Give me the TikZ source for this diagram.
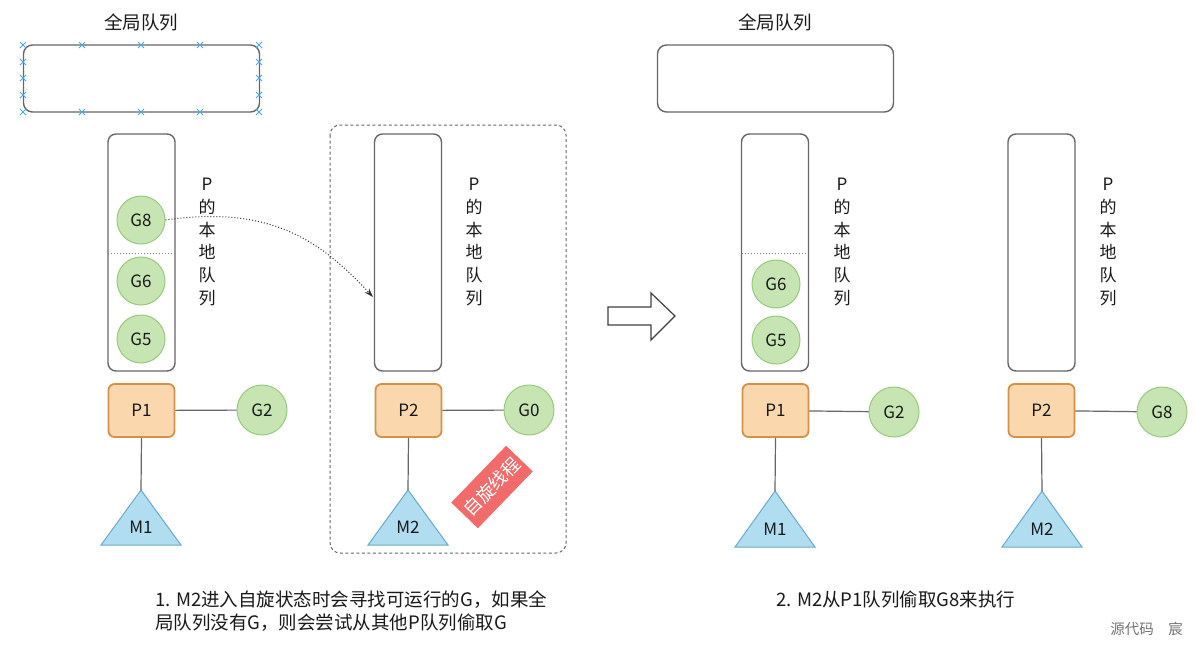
\documentclass[tikz,border=0pt]{standalone}
\usepackage{fontspec}
\setmainfont{Noto Sans CJK SC}
\usetikzlibrary{arrows.meta,shapes.geometric,shapes.arrows}
\definecolor{boxgray}{HTML}{666666}
\definecolor{gfill}{HTML}{C6E5B2}
\definecolor{gdraw}{HTML}{98C97E}
\definecolor{pfill}{HTML}{FAD7AC}
\definecolor{pdraw}{HTML}{D4914A}
\definecolor{mfill}{HTML}{B1DDF0}
\definecolor{mdraw}{HTML}{6CA9C8}
\definecolor{redlab}{HTML}{F26B6B}
\definecolor{handle}{HTML}{4AA8E0}
\tikzset{
  lbl/.style={font=\fontsize{18.5}{22}\selectfont, text=black!90},
  queue/.style={draw=boxgray, line width=1.4pt, rounded corners=8pt, minimum width=67pt, minimum height=237pt, inner sep=0pt},
  gq/.style={draw=boxgray, line width=1.4pt, rounded corners=9pt, minimum width=236pt, minimum height=67pt, inner sep=0pt},
  gnode/.style={circle, draw=gdraw, fill=gfill, line width=1pt, minimum size=48pt, inner sep=0pt, font=\fontsize{17}{20}\selectfont, text=black!90},
  pnode/.style={draw=pdraw, fill=pfill, line width=1.8pt, rounded corners=6pt, minimum width=66pt, minimum height=53pt, inner sep=0pt, font=\fontsize{17}{20}\selectfont, text=black!90},
  link/.style={draw=boxgray, line width=1.2pt},
  mtri/.style={draw=mdraw, fill=mfill, line width=1pt},
  mlab/.style={font=\fontsize{17}{20}\selectfont, text=black!90},
  sep/.style={draw=gray, line width=1pt, dotted},
  vtext/.style={font=\fontsize{17}{22.7}\selectfont, align=center, text=black!90},
  hx/.style={draw=handle, line width=0.8pt},
}
\newcommand{\hmark}[2]{\draw[hx] (#1-3,#2-3) -- (#1+3,#2+3) (#1-3,#2+3) -- (#1+3,#2-3);}
\newcommand{\vlabel}[3]{\node[vtext, inner sep=0pt] (#1) at (#2,#3) {P\\的\\本\\地\\队\\列};}
\begin{document}
\begin{tikzpicture}[x=1pt,y=-1pt]
\useasboundingbox (0,0) rectangle (1195,648);
% ---------- left part ----------
\node[lbl] (gtitle1) at (141,22) {全局队列};
\node[gq] (gq1) at (141.5,78.5) {};
\foreach \xx in {23,82,141,200,259}{\hmark{\xx}{45}\hmark{\xx}{112}}
\foreach \yy in {62,78,95}{\hmark{23}{\yy}\hmark{259}{\yy}}

\node[queue] (q1) at (141.5,252.5) {};
\draw[sep] (108,253) -- (175,253);
\node[gnode] (g8a) at (141,220) {G8};
\node[gnode] (g6a) at (141,281) {G6};
\node[gnode] (g5a) at (141,339) {G5};
\vlabel{v1}{207}{242}

\node[pnode] (p1a) at (141.5,410.5) {P1};
\node[gnode, minimum size=50pt] (g2a) at (262,410) {G2};
\draw[link] (p1a) -- (g2a);
\coordinate (m1apex) at (141,490);
\draw[mtri] (m1apex) -- (181,545) -- (101,545) -- cycle;
\node[mlab] (m1a) at (141,527) {M1};
\draw[link] (p1a.south) -- (m1apex);

% ---------- spinning thread ----------
\draw[boxgray, line width=1pt, dashed, dash pattern=on 3pt off 2.5pt, rounded corners=10pt] (330,125) rectangle (566,553);
\node[queue] (q2) at (408,252.5) {};
\vlabel{v2}{474}{242}
\node[pnode] (p2a) at (408.5,410.5) {P2};
\node[gnode, minimum size=50pt] (g0) at (529,410) {G0};
\draw[link] (p2a) -- (g0);
\coordinate (m2apex) at (408,490);
\draw[mtri] (m2apex) -- (448,545) -- (368,545) -- cycle;
\node[mlab] (m2a) at (408,527) {M2};
\draw[link] (p2a.south) -- (m2apex);
\node[fill=redlab, text=white, rotate=46, font=\fontsize{18}{20}\selectfont, minimum width=79pt, minimum height=37pt, inner sep=1pt] (spin) at (492,487) {自旋线程};

\draw[black!80, line width=1pt, dotted, -{Stealth[length=9pt,width=6pt]}] (g8a.east) .. controls (270,205) and (320,240) .. (373,297);

% ---------- hollow arrow ----------
\draw[black!75, line width=1.2pt, fill=white] (608,307) -- (651,307) -- (651,293) -- (675,316) -- (651,340) -- (651,325) -- (608,325) -- cycle;

% ---------- right part ----------
\node[lbl] (gtitle2) at (775,22) {全局队列};
\node[gq] (gq2) at (775.5,78.5) {};

\node[queue] (q3) at (775,252.5) {};
\draw[sep] (742,253) -- (808,253);
\node[gnode] (g6b) at (776,284) {G6};
\node[gnode] (g5b) at (776,340) {G5};
\vlabel{v3}{842}{242}
\node[pnode] (p1b) at (775.5,410.5) {P1};
\node[gnode, minimum size=50pt] (g2b) at (894,412) {G2};
\draw[link] (p1b) -- (g2b);
\coordinate (m1bapex) at (775,491);
\draw[mtri] (m1bapex) -- (815,547) -- (735,547) -- cycle;
\node[mlab] (m1b) at (775,529) {M1};
\draw[link] (p1b.south) -- (m1bapex);

\node[queue] (q4) at (1041.5,252.5) {};
\vlabel{v4}{1108}{242}
\node[pnode] (p2b) at (1041.5,410.5) {P2};
\node[gnode, minimum size=50pt] (g8b) at (1162,412) {G8};
\draw[link] (p2b) -- (g8b);
\coordinate (m2bapex) at (1042,491);
\draw[mtri] (m2bapex) -- (1082,547) -- (1002,547) -- cycle;
\node[mlab] (m2b) at (1042,529) {M2};
\draw[link] (p2b.south) -- (m2bapex);

% ---------- captions ----------
\node[anchor=north west, align=left, font=\fontsize{18.5}{23}\selectfont, text=black!90, inner sep=0pt] (cap1) at (155,591) {1. M2进入自旋状态时会寻找可运行的G，如果全\\局队列没有G，则会尝试从其他P队列偷取G};
\node[anchor=north west, font=\fontsize{18.5}{23}\selectfont, text=black!90, inner sep=0pt] (cap2) at (776,591) {2. M2从P1队列偷取G8来执行};
\node[anchor=east, font=\fontsize{14.5}{16}\selectfont, text=black!55, inner sep=0pt] (wm) at (1183,629) {源代码\hspace{1em}宸};
\end{tikzpicture}
\end{document}
